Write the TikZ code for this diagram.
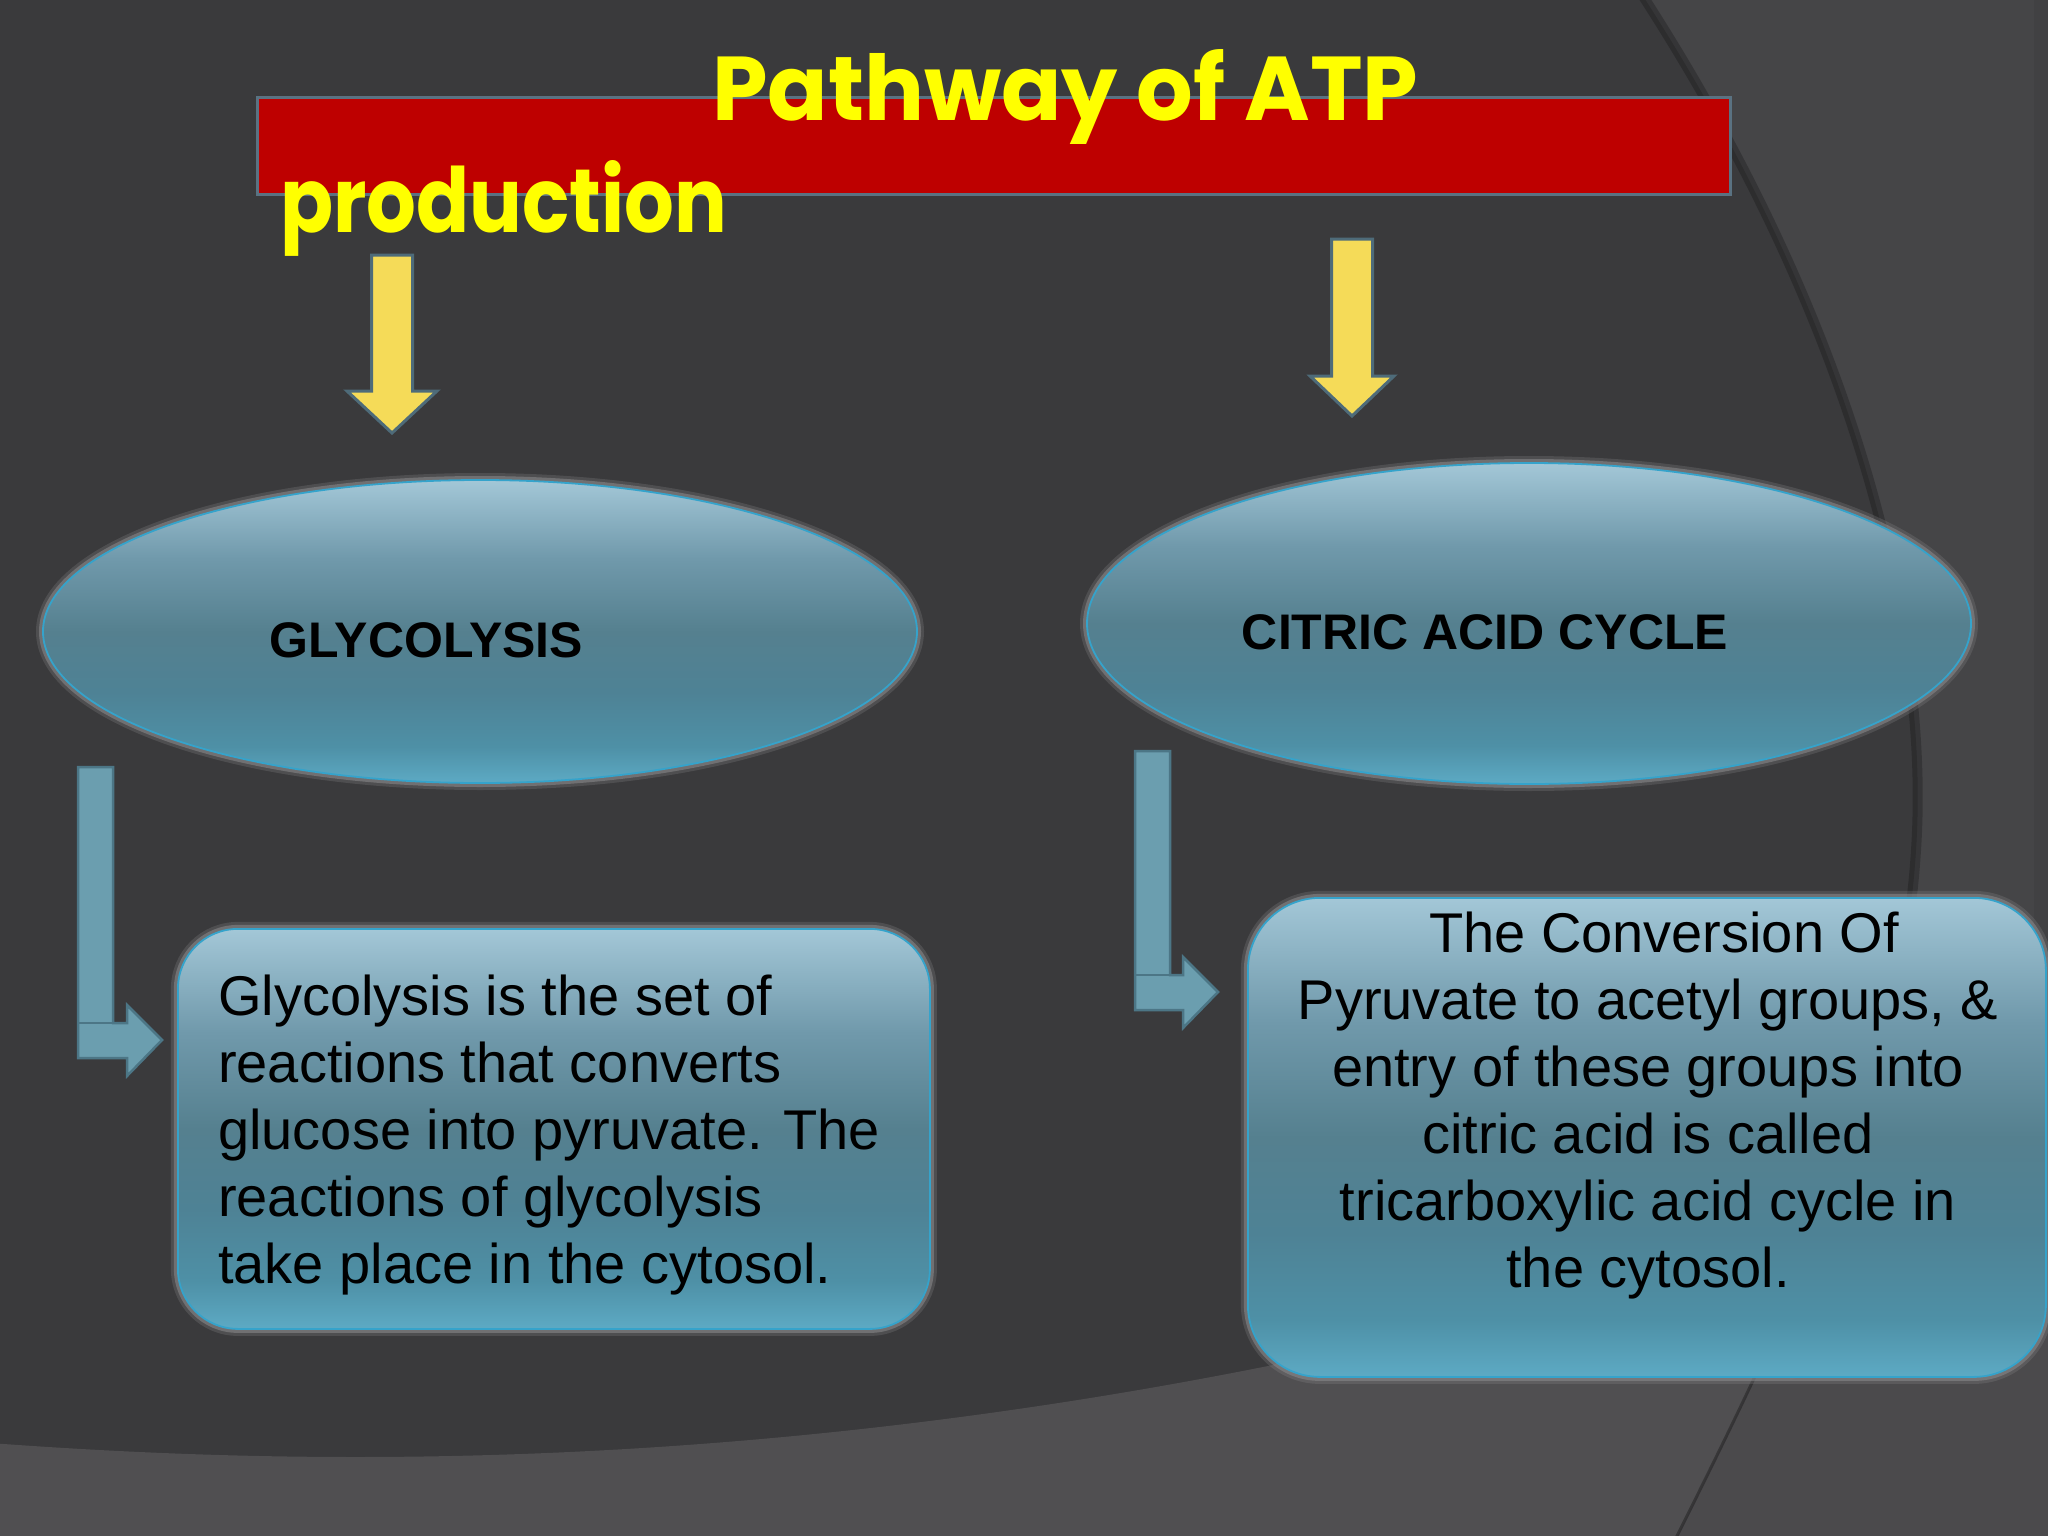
\documentclass[tikz,border=0pt]{standalone}
\usepackage{graphicx}
\usepackage{fontspec}
\setmainfont{Liberation Sans}
\newfontfamily\titlefont{Poppins}
\usetikzlibrary{shapes.geometric,calc}

\definecolor{bgin}{HTML}{3A3A3C}
\definecolor{bgout}{HTML}{454547}
\definecolor{bgbot}{HTML}{504F51}
\definecolor{gT}{HTML}{A3C7D7}
\definecolor{gU}{HTML}{7099AB}
\definecolor{gM}{HTML}{55808F}
\definecolor{gN}{HTML}{4E8295}
\definecolor{gL}{HTML}{4E90A6}
\definecolor{gB}{HTML}{5DAAC4}
\definecolor{edgecyan}{HTML}{35A3CB}
\definecolor{glowgray}{HTML}{8C8C8E}
\definecolor{barred}{HTML}{BE0000}
\definecolor{barline}{HTML}{5A7282}
\definecolor{yel}{HTML}{F5DB58}
\definecolor{yelline}{HTML}{4E6B79}
\definecolor{bentfill}{HTML}{6B9EAF}
\definecolor{bentline}{HTML}{4C7686}
\definecolor{titleyellow}{HTML}{FFFF00}

\pgfdeclareverticalshading{glassy}{100bp}{color(0bp)=(gB); color(25bp)=(gB); color(31bp)=(gL); color(40bp)=(gN); color(50bp)=(gM); color(62bp)=(gU); color(75bp)=(gT); color(100bp)=(gT)}

\tikzset{
  glass/.style={shading=glassy, draw=edgecyan, line width=1.8pt,
    preaction={draw=glowgray, line width=14pt, draw opacity=.25},
    preaction={draw=glowgray, line width=8pt, draw opacity=.55}},
  yarrow/.style={fill=yel, draw=yelline, line width=3pt, line join=miter},
  bentarrow/.style={fill=bentfill, draw=bentline, line width=2.5pt, line join=miter},
  bodytext/.style={inner sep=0pt, text=black, font=\fontsize{56}{67}\selectfont},
  headtext/.style={inner sep=0pt, text=black, font=\bfseries\fontsize{50}{60}\selectfont},
  titletext/.style={inner sep=0pt, text=titleyellow, anchor=base west}
}

\def\arcedge{(1639,-10) .. controls (1860,330) and (1930,640) .. (1916,850)
  .. controls (1902,1080) and (1790,1310) .. (1672,1546)}
\def\bandedge{(-10,1443) .. controls (250,1462) and (700,1480) .. (1273,1365)
  .. controls (1500,1250) and (1800,1100) .. (2060,950)}

\begin{document}
\begin{tikzpicture}[x=1pt,y=-1pt]
\useasboundingbox (0,0) rectangle (2048,1536);
\clip (0,0) rectangle (2048,1536);

% background
\fill[bgout] (0,0) rectangle (2048,1536);
\fill[bgin] (-10,-10) -- \arcedge -- (-10,1546) -- cycle;
\draw[black, draw opacity=.22, line width=10pt] \arcedge;
\fill[bgout!60!bgin] (2034,0) rectangle (2048,1536);
\fill[bgbot] \bandedge -- (2060,1546) -- (-10,1546) -- cycle;
\begin{scope}
  \clip \bandedge -- (2060,1546) -- (-10,1546) -- cycle;
  \fill[black, opacity=.05] (1790,1380) -- \arcedge -- (2060,1546) -- (2060,1300) -- cycle;
  \draw[black, draw opacity=.3, line width=3pt] \arcedge;
\end{scope}

% title bar
\node[rectangle, fill=barred, draw=barline, line width=3pt, minimum width=1473pt,
  minimum height=97pt, anchor=north west, inner sep=0pt] (bar) at (256,96) {};
\node[titletext] (title1) at (712,121) {\resizebox{706pt}{71pt}{\titlefont\bfseries Pathway of ATP}};
\node[titletext] (title2) at (280,232) {\resizebox{447pt}{72pt}{\titlefont\bfseries production}};

% yellow arrows
\coordinate (ya1top) at (392,255);
\coordinate (ya1tip) at (392,433);
\draw[yarrow] ($(ya1top)+(-20.5,0)$) -- ($(ya1top)+(20.5,0)$) -- (412.5,391) -- (437,391)
  -- (ya1tip) -- (347,391) -- (371.5,391) -- cycle;
\coordinate (ya2top) at (1352,239);
\coordinate (ya2tip) at (1352,416);
\draw[yarrow] ($(ya2top)+(-20.5,0)$) -- ($(ya2top)+(20.5,0)$) -- (1372.5,376) -- (1394,376)
  -- (ya2tip) -- (1310,376) -- (1331.5,376) -- cycle;

% ellipses
\node[ellipse, glass, minimum width=874pt, minimum height=303pt, inner sep=0pt] (glyc) at (480,631.5) {};
\node[headtext, anchor=base] (glyct) at (426.5,657) {GLYCOLYSIS};
\node[ellipse, glass, minimum width=884pt, minimum height=321pt, inner sep=0pt] (cac) at (1529,623.5) {};
\node[headtext, anchor=base] (cact) at (1485,649) {CITRIC ACID CYCLE};

% bent arrows
\draw[bentarrow] (78,767) -- (113,767) -- (113,1023) -- (127,1023) -- (127,1005) -- (162,1040)
  -- (127,1076) -- (127,1058) -- (78,1058) -- cycle;
\draw[bentline, line width=2.5pt] (78,1023) -- (113,1023);
\draw[bentarrow] (1135,751) -- (1170,751) -- (1170,975) -- (1183,975) -- (1183,957) -- (1218,992)
  -- (1183,1028) -- (1183,1010) -- (1135,1010) -- cycle;
\draw[bentline, line width=2.5pt] (1135,975) -- (1170,975);

% boxes
\node[rectangle, rounded corners=60pt, glass, minimum width=752pt, minimum height=400pt,
  anchor=north west, inner sep=0pt] (box1) at (177,928) {};
\node[rectangle, rounded corners=72pt, glass, minimum width=798pt, minimum height=479pt,
  anchor=north west, inner sep=0pt] (box2) at (1247,897) {};

\node[bodytext, anchor=base west] (box1t) at (218,1015) {\parbox[t]{700pt}{\raggedright
Glycolysis is the set of\\
reactions that converts\\
glucose into pyruvate. The\\
reactions of glycolysis\\
take place in the cytosol.}};

\node[bodytext, anchor=base] (box2t) at (1648,952) {\parbox[t]{800pt}{\centering
\hspace*{32pt}The Conversion Of\\
Pyruvate to acetyl groups, \&\\
entry of these groups into\\
citric acid is called\\
tricarboxylic acid cycle in\\
the cytosol.}};
\end{tikzpicture}
\end{document}
